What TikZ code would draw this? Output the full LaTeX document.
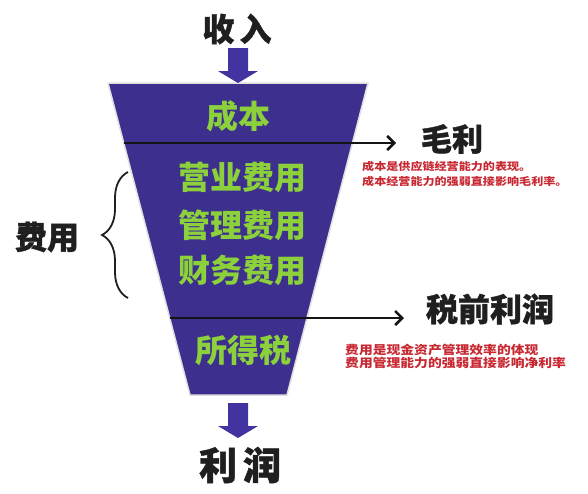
\documentclass[tikz,border=0pt]{standalone}
\usepackage{fontspec}
\newfontfamily\cjk{Noto Sans CJK SC}
\newfontfamily\cjkheavy[FakeBold=1.2]{Noto Sans CJK SC}
\newfontfamily\cjknote[FakeStretch=1.15]{Noto Sans CJK SC}
\usetikzlibrary{arrows.meta,decorations.pathreplacing,calc}
\definecolor{funnelblue}{RGB}{60,47,142}
\definecolor{arrowblue}{RGB}{66,52,160}
\definecolor{lgreen}{RGB}{140,208,60}
\definecolor{notered}{RGB}{200,40,50}
\begin{document}
\begin{tikzpicture}[x=1pt,y=-1pt,
  bigtext/.style={font=\cjkheavy\bfseries\fontsize{32}{32}\selectfont, text=black!88, inner sep=0pt},
  greentext/.style={font=\cjk\bfseries\fontsize{32}{32}\selectfont, text=lgreen, inner sep=0pt},
  notetext/.style={text=notered, align=left, anchor=west, inner sep=0pt},
  conn/.style={line width=2.5pt, draw=black!92, -{Straight Barb[length=7pt,width=14pt]}},
  blockarrow/.style={fill=arrowblue, draw=none}
]
\useasboundingbox (0,0) rectangle (588,493);
% funnel
\coordinate (tl) at (108,83);
\coordinate (tr) at (368,83);
\coordinate (br) at (287,395);
\coordinate (bl) at (190,395);
\path[fill=funnelblue, draw=gray!25, line width=1.5pt] (tl) -- (tr) -- (br) -- (bl) -- cycle;
% block arrows
\path[blockarrow] (228,48) -- (248,48) -- (248,71) -- (258,71) -- (238,83) -- (218,71) -- (228,71) -- cycle;
\path[blockarrow] (228,403) -- (248,403) -- (248,426) -- (258,426) -- (238,438) -- (218,426) -- (228,426) -- cycle;
% texts
\node[bigtext] (income) at (237,29) {收\hspace{5pt}入};
\node[bigtext, font=\cjkheavy\bfseries\fontsize{38}{38}\selectfont] (profit) at (240,465) {利\hspace{6pt}润};
\node[greentext] (cost) at (238,116) {成本};
\node[greentext] (sales) at (242,177) {营业费用};
\node[greentext] (mgmt) at (242,225) {管理费用};
\node[greentext] (fin) at (242,270) {财务费用};
\node[greentext] (tax) at (243,350) {所得税};
\node[bigtext] (fee) at (47,237) {费用};
\node[bigtext, font=\cjkheavy\bfseries\fontsize{31}{31}\selectfont] (gross) at (452,139) {毛利};
\node[bigtext] (pretax) at (490,309) {税前利润};
\node[notetext, font=\cjknote\bfseries\fontsize{10.5}{15}\selectfont] (note1) at (362,173.5) {成本是供应链经营能力的表现。\\成本经营能力的强弱直接影响毛利率。};
\node[notetext, font=\cjknote\bfseries\fontsize{12}{13}\selectfont] (note2) at (345,356.5) {费用是现金资产管理效率的体现\\费用管理能力的强弱直接影响净利率};
% connectors
\coordinate (s1) at (124,143);
\coordinate (e1) at (396,143);
\coordinate (s2) at (170,318);
\coordinate (e2) at (404,318);
\draw[conn] (s1) -- (e1);
\draw[conn] (s2) -- (e2);
% brace
\draw[line width=1.8pt, black!88, decorate, decoration={brace, amplitude=26pt}] (128,298) -- (128,172);
\end{tikzpicture}
\end{document}
